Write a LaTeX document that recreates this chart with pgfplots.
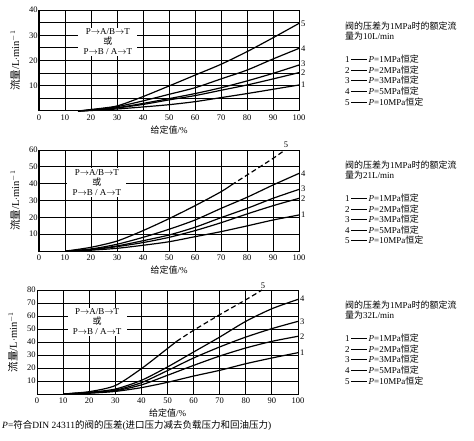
\documentclass[border=0pt]{standalone}
\usepackage{pgfplots}
\pgfplotsset{compat=1.18}
\usepackage{fontspec}
\setmainfont{Liberation Serif}
\newfontfamily\cjk{Noto Sans CJK SC}
\newcommand{\zh}[1]{{\cjk #1}}
\newcommand{\leg}[2]{#1\,\rule[2.8pt]{16pt}{0.5pt}\,\textit{P}=#2MPa\zh{恒定}}
\pgfplotsset{
  myax/.style={
    scale only axis, width=260pt, height=101pt,
    xmin=0, xmax=100, ymin=0,
    xtick={0,10,...,100},
    grid=both,
    grid style={black, line width=0.9pt},
    major grid style={black, line width=0.9pt},
    minor grid style={black, line width=0.9pt},
    axis line style={black, line width=1pt},
    major tick length=0pt, minor tick length=0pt,
    tick label style={font=\fontsize{8.5}{9}\selectfont},
    /pgf/number format/assume math mode=true,
    yticklabel style={inner sep=1.2pt},
    clip=false,
    xlabel={\zh{给定值}/\%},
    xlabel style={font=\fontsize{9}{10}\selectfont, at={(axis description cs:0.5,0)}, yshift=-19pt, anchor=center},
    ylabel={\zh{流量}/L$\cdot$min$^{-1}$},
    ylabel style={font=\fontsize{10.5}{11}\selectfont, at={(axis description cs:-0.092,0.5)}, anchor=center},
    cycle list={{black, solid, line width=1.2pt}},
    every axis plot/.append style={black, line width=1.2pt, smooth, tension=0.45, no marks},
  },
}
\tikzset{
  boxnode/.style={fill=white, inner sep=1.5pt, align=center, font=\fontsize{9}{9.8}\selectfont, minimum width=59pt},
  cl/.style={anchor=west, font=\fontsize{8.5}{9}\selectfont, inner sep=1pt, xshift=1pt},
  dsh/.style={black, line width=1.2pt, dash pattern=on 5pt off 3pt},
}
\begin{document}
\begin{tikzpicture}[x=1pt,y=1pt]
\path[use as bounding box] (0,0) rectangle (474,440);
% ---------- plot 1
\begin{axis}[myax, at={(39pt,329pt)}, anchor=south west,
  ymax=40, ytick={10,20,30,40}, minor ytick={5,15,25,35}]
\addplot coordinates {(15,0)(20,0.6)(30,2)(40,5.7)(50,9.9)(60,14.2)(70,18.5)(80,23.5)(90,29)(100,34.7)};
\addplot coordinates {(15,0)(20,0.4)(30,1.7)(40,4)(50,6.6)(60,9.2)(70,12.7)(80,16.2)(90,20.6)(100,24.8)};
\addplot coordinates {(15,0)(20,0.3)(30,1.3)(40,3)(50,4.9)(60,6.9)(70,9.2)(80,11.9)(90,14.9)(100,18.2)};
\addplot coordinates {(15,0)(20,0.3)(30,1.2)(40,2.6)(50,4.4)(60,6.1)(70,8.2)(80,10.3)(90,12.7)(100,15.2)};
\addplot coordinates {(15,0)(20,0.2)(30,0.8)(40,1.6)(50,2.5)(60,3.7)(70,5.3)(80,6.9)(90,8.6)(100,10.3)};
\node[boxnode] at (axis cs:26.5,27.4) {P$\rightarrow$A/B$\rightarrow$T\\\zh{或}\\P$\rightarrow$B / A$\rightarrow$T};
\node[cl] at (axis cs:100,34.7) {5};
\node[cl] at (axis cs:100,24.8) {4};
\node[cl] at (axis cs:100,18.7) {3};
\node[cl] at (axis cs:100,15.2) {2};
\node[cl] at (axis cs:100,10.3) {1};
\end{axis}
% ---------- plot 2
\begin{axis}[myax, at={(39pt,189pt)}, anchor=south west,
  ymax=60, ytick={10,20,...,60}]
\addplot coordinates {(10.5,0)(20,2.2)(30,5.9)(40,12.1)(50,19.2)(60,26.9)(70,35.2)(74,39.2)};
\addplot[dsh] coordinates {(74,39.2)(80,45.1)(90,55)(94.6,60)};
\addplot coordinates {(10.5,0)(20,1.2)(30,4)(40,8.1)(50,12.9)(60,18.4)(70,25.3)(80,31.9)(90,39.2)(100,46.1)};
\addplot coordinates {(10.5,0)(20,0.9)(30,3)(40,6.1)(50,9.5)(60,14.1)(70,19.8)(80,25.3)(90,31.3)(100,36.6)};
\addplot coordinates {(10.5,0)(20,0.8)(30,2.6)(40,5)(50,8.1)(60,12.1)(70,16.8)(80,22)(90,26.9)(100,31.3)};
\addplot coordinates {(10.5,0)(20,0.5)(30,1.6)(40,3.4)(50,5.5)(60,8.5)(70,11.5)(80,14.9)(90,18.4)(100,21.4)};
\node[boxnode] at (axis cs:22.3,40.8) {P$\rightarrow$A/B$\rightarrow$T\\\zh{或}\\P$\rightarrow$B / A$\rightarrow$T};
\node[cl, anchor=south, xshift=0pt] at (axis cs:94.6,60.5) {5};
\node[cl] at (axis cs:100,46.1) {4};
\node[cl] at (axis cs:100,37) {3};
\node[cl] at (axis cs:100,31) {2};
\node[cl] at (axis cs:100,21.4) {1};
\end{axis}
% ---------- plot 3
\begin{axis}[myax, at={(37pt,46pt)}, anchor=south west, width=261pt, height=104pt,
  ymax=80, ytick={10,20,...,80}]
\addplot coordinates {(10,0)(20,1.8)(30,6.5)(40,19.5)(50,35)(53.5,40.5)};
\addplot[dsh] coordinates {(53.5,40.5)(60,49)(70,61)(80,72.5)(86.2,80)};
\addplot coordinates {(10,0)(20,1.3)(30,3.8)(40,10.5)(50,20.8)(60,32.3)(70,43.8)(80,55.9)(90,65.6)(100,72.8)};
\addplot coordinates {(10,0)(20,1)(30,3)(40,8.7)(50,18)(60,27.7)(70,36.2)(80,43.8)(90,50.3)(100,55.9)};
\addplot coordinates {(10,0)(20,0.9)(30,2.5)(40,7)(50,14.4)(60,22)(70,29.2)(80,35.4)(90,40.5)(100,44.4)};
\addplot coordinates {(10,0)(20,0.6)(30,2)(40,4.9)(50,9)(60,13.8)(70,18.2)(80,23.3)(90,27.7)(100,31.8)};
\node[boxnode] at (axis cs:23,55.5) {P$\rightarrow$A/B$\rightarrow$T\\\zh{或}\\P$\rightarrow$B / A$\rightarrow$T};
\node[cl, anchor=south, xshift=0pt] at (axis cs:86.2,80.5) {5};
\node[cl] at (axis cs:100,73.3) {4};
\node[cl] at (axis cs:100,55.6) {3};
\node[cl] at (axis cs:100,44) {2};
\node[cl] at (axis cs:100,31.8) {1};
\end{axis}
% ---------- side texts
\begin{scope}[every node/.style={anchor=west, inner sep=0pt, font=\fontsize{9}{10}\selectfont}]
\node at (345,414) {\zh{阀的压差为}1MPa\zh{时的额定流}};
\node at (345,404) {\zh{量为}10L/min};
\node at (345,380.7) {\leg{1}{1}};
\node at (345,370.0) {\leg{2}{2}};
\node at (345,360.0) {\leg{3}{3}};
\node at (345,349.3) {\leg{4}{5}};
\node at (345,338.3) {\leg{5}{10}};
\node at (345,275) {\zh{阀的压差为}1MPa\zh{时的额定流}};
\node at (345,265) {\zh{量为}21L/min};
\node at (345,241.7) {\leg{1}{1}};
\node at (345,231.0) {\leg{2}{2}};
\node at (345,220.7) {\leg{3}{3}};
\node at (345,210.3) {\leg{4}{5}};
\node at (345,199.7) {\leg{5}{10}};
\node at (345,135) {\zh{阀的压差为}1MPa\zh{时的额定流}};
\node at (345,125) {\zh{量为}32L/min};
\node at (345,101.7) {\leg{1}{1}};
\node at (345,91.3) {\leg{2}{2}};
\node at (345,81.0) {\leg{3}{3}};
\node at (345,70.3) {\leg{4}{5}};
\node at (345,59.3) {\leg{5}{10}};
\node[font=\fontsize{9.5}{10}\selectfont] at (2,14.3) {\textit{P}=\zh{符合}DIN 24311\zh{的阀的压差}(\zh{进口压力减去负载压力和回油压力})};
\end{scope}
\end{tikzpicture}
\end{document}
